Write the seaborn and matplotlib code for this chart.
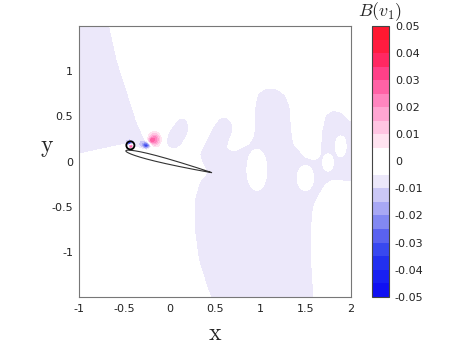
import numpy as np
import matplotlib
matplotlib.use("Agg")
import matplotlib.pyplot as plt
import seaborn as sns
from matplotlib.path import Path
from matplotlib.colors import ListedColormap, BoundaryNorm

sns.set_theme(style="white")
plt.rcParams['font.family'] = ['DejaVu Sans']
plt.rcParams['axes.unicode_minus'] = False
plt.rcParams['mathtext.fontset'] = 'cm'

# ---------------- colour levels ----------------
levels = np.round(np.linspace(-0.05, 0.05, 21), 3)
band_colors = ['#1010f2', '#1820f2', '#2230f0', '#3848f0', '#5a62f0',
               '#8288f2', '#a8a8f4', '#cbc8f6', '#ece8fa',
               '#ffffff', '#ffffff',
               '#ffe3f0', '#ffc5e2', '#ffa6d2', '#ff85bf', '#ff62a6',
               '#ff4088', '#ff2862', '#ff1c40', '#ff1830']
cbar_ticks = [-0.05, -0.04, -0.03, -0.02, -0.01, 0, 0.01, 0.02, 0.03, 0.04, 0.05]
cbar_labels = ['-0.05', '-0.04', '-0.03', '-0.02', '-0.01', '0',
               '0.01', '0.02', '0.03', '0.04', '0.05']
x_ticks = [-1, -0.5, 0, 0.5, 1, 1.5, 2]
x_tick_labels = ['-1', '-0.5', '0', '0.5', '1', '1.5', '2']
y_ticks = [-1, -0.5, 0, 0.5, 1]
y_tick_labels = ['-1', '-0.5', '0', '0.5', '1']

# ---------------- weak negative (lavender) regions ----------------
low_level = -0.0095
wedge_x = [-1.10, -0.68, -0.574, -0.456, -0.364, -0.30, -0.25, -0.22, -0.32, -0.40, -0.50, -1.10]
wedge_y = [1.60, 1.60, 1.12, 0.75, 0.46, 0.31, 0.22, 0.15, 0.15, 0.16, 0.19, 0.06]
finger_x = [0.12, 0.19, 0.22, 0.20, 0.14, 0.08, -0.01, -0.04, -0.01, 0.06]
finger_y = [0.49, 0.47, 0.38, 0.30, 0.19, 0.14, 0.15, 0.22, 0.33, 0.43]
wake_x = [0.49, 0.41, 0.32, 0.27, 0.28, 0.33, 0.42, 0.36, 0.33, 0.41,
          0.50, 0.56, 0.64, 0.70, 0.70, 0.65, 0.64, 0.72, 0.80, 0.88,
          0.93, 0.94, 0.97, 1.05, 1.18, 1.28, 1.33, 1.35, 1.37, 1.44,
          1.50, 1.60, 1.66, 1.68, 1.72, 1.80, 1.90, 1.97, 2.10, 2.10,
          1.95, 1.80, 1.72, 1.66, 1.59, 1.57, 1.57, 1.60]
wake_y = [-1.60, -1.38, -1.09, -0.72, -0.40, -0.22, -0.12, -0.02, 0.09, 0.25,
          0.42, 0.49, 0.49, 0.42, 0.33, 0.20, 0.14, 0.12, 0.16, 0.20,
          0.30, 0.60, 0.75, 0.81, 0.81, 0.74, 0.62, 0.34, 0.20, 0.12,
          0.05, 0.02, 0.06, 0.34, 0.52, 0.57, 0.55, 0.47, 0.40, -0.22,
          -0.22, -0.20, -0.26, -0.36, -0.50, -0.72, -1.09, -1.60]
# white holes inside the wake (ellipses)
hole_x = [0.965, 1.50, 1.75, 1.89]
hole_y = [-0.09, -0.18, -0.01, 0.17]
hole_rx = [0.11, 0.09, 0.06, 0.06]
hole_ry = [0.23, 0.14, 0.10, 0.12]

# ---------------- strong blobs near the leading edge ----------------
blob_x = [-0.165, -0.20, -0.25, -0.44, -0.425]
blob_y = [0.245, 0.235, 0.18, 0.205, 0.172]
blob_amp = [0.025, 0.012, -0.03, -0.03, 0.035]
blob_sx = [0.042, 0.016, 0.034, 0.02, 0.013]
blob_sy = [0.048, 0.016, 0.026, 0.016, 0.013]

# sensor marker
marker_x = [-0.43]
marker_y = [0.18]

# airfoil
le_x, le_y = -0.48, 0.12
chord = 0.976
pitch_deg = 14.3
thickness = 0.065

# ---------------- build field ----------------
gx = np.linspace(-1.1, 2.1, 641)
gy = np.linspace(-1.6, 1.6, 641)
X, Y = np.meshgrid(gx, gy)
pts = np.column_stack([X.ravel(), Y.ravel()])


def region(xs, ys):
    return Path(np.column_stack([xs, ys])).contains_points(pts).reshape(X.shape)


def smooth(a, w):
    k = np.exp(-0.5 * (np.arange(-3 * w, 3 * w + 1) / w) ** 2)
    k /= k.sum()
    a = np.apply_along_axis(lambda r: np.convolve(r, k, mode='same'), 1, a)
    a = np.apply_along_axis(lambda c: np.convolve(c, k, mode='same'), 0, a)
    return a


mask = region(wedge_x, wedge_y) | region(finger_x, finger_y) | region(wake_x, wake_y)
for hx, hy, rx, ry in zip(hole_x, hole_y, hole_rx, hole_ry):
    mask &= ((X - hx) / rx) ** 2 + ((Y - hy) / ry) ** 2 > 1
Z = low_level * smooth(mask.astype(float), 4)
for bx, by, a, sx, sy in zip(blob_x, blob_y, blob_amp, blob_sx, blob_sy):
    Z += a * np.exp(-0.5 * ((X - bx) / sx) ** 2 - 0.5 * ((Y - by) / sy) ** 2)
Z = np.clip(Z, -0.0499, 0.0499)

# ---------------- figure ----------------
W, H = 474, 349
fig = plt.figure(figsize=(W / 100, H / 100), dpi=100)
ax = fig.add_axes([78.7 / W, 1 - 297.3 / H, 272 / W, 271.3 / H])
cax = fig.add_axes([371.7 / W, 1 - 296.7 / H, 17.6 / W, 270.7 / H])

cmap = ListedColormap(band_colors)
norm = BoundaryNorm(levels, cmap.N)
cf = ax.contourf(X, Y, Z, levels=levels, cmap=cmap, norm=norm)

# airfoil outline
s = np.linspace(0, 1, 200) ** 2
yt = 5 * thickness * (0.2969 * np.sqrt(s) - 0.1260 * s - 0.3516 * s ** 2
                      + 0.2843 * s ** 3 - 0.1015 * s ** 4)
xs = np.concatenate([s[::-1], s[1:]]) * chord
ys = np.concatenate([yt[::-1], -yt[1:]]) * chord
th = np.deg2rad(-pitch_deg)
ax_pts = le_x + xs * np.cos(th) - ys * np.sin(th)
ay_pts = le_y + xs * np.sin(th) + ys * np.cos(th)
ax.plot(ax_pts, ay_pts, color='#333333', lw=0.8)

sns.scatterplot(x=marker_x, y=marker_y, ax=ax, s=34, facecolor='none',
                edgecolor='black', linewidth=1.3, legend=False, zorder=5)

ax.set_xlim(-1, 2)
ax.set_ylim(-1.5, 1.5)
ax.set_xticks(x_ticks)
ax.set_xticklabels(x_tick_labels)
ax.set_yticks(y_ticks)
ax.set_yticklabels(y_tick_labels)
ax.tick_params(direction='in', length=3, width=0.7, color='#666666',
               top=True, right=True, bottom=True, left=True,
               labelsize=8, labelcolor='#222222')
ax.tick_params(axis='x', pad=5)
ax.tick_params(axis='y', pad=4)
for sp in ax.spines.values():
    sp.set_color('#777777')
    sp.set_linewidth(0.8)
ax.set_xlabel('')
ax.set_ylabel('')

cb = fig.colorbar(cf, cax=cax)
cb.set_ticks(cbar_ticks, labels=cbar_labels)
cb.ax.minorticks_off()
cb.ax.yaxis.set_tick_params(which='major', direction='in', length=2.5, width=0.7,
                            color='#444444', labelsize=8, pad=4,
                            labelcolor='#222222', right=True, left=False)
cb.outline.set_edgecolor('#444444')
cb.outline.set_linewidth(0.8)
cax.set_title(r'$B(v_1)$', fontsize=13, pad=7)

fig.text(215 / W, 1 - 333 / H, r'$\mathrm{x}$', fontsize=17, ha='center', va='center')
fig.text(47 / W, 1 - 147 / H, r'$\mathrm{y}$', fontsize=17, ha='center', va='center')

fig.savefig('out.png', dpi=100)
